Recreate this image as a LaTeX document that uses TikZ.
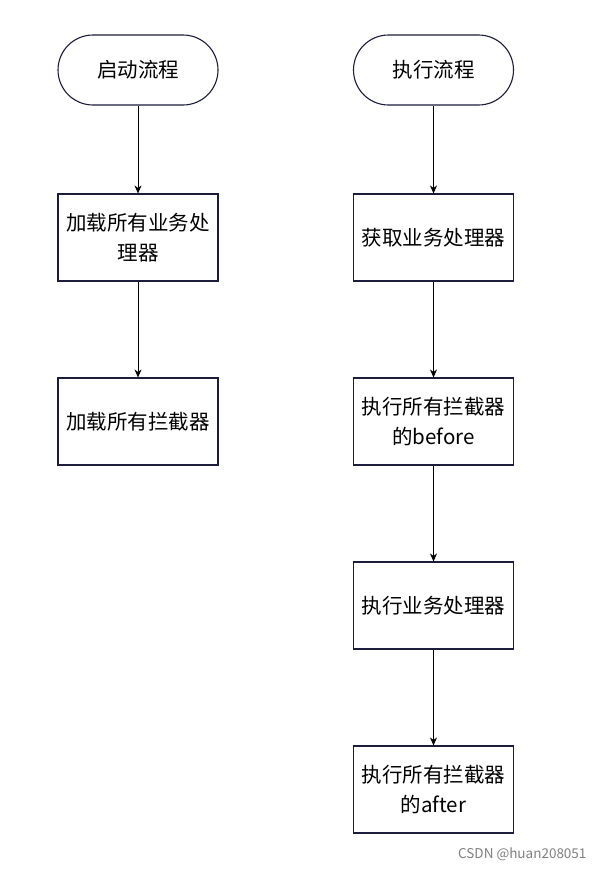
\documentclass[tikz,border=0pt]{standalone}
\usepackage{fontspec}
\setmainfont{Noto Sans CJK SC}
\usetikzlibrary{arrows.meta}
\definecolor{ln}{HTML}{1C1C3C}
\begin{document}
\begin{tikzpicture}[x=1pt,y=-1pt,
  term/.style={draw=ln,line width=1.1pt,rounded corners=35pt,minimum width=160pt,minimum height=70pt,font=\fontsize{20.5}{26}\selectfont,inner sep=0pt},
  box/.style={draw=ln,line width=1.1pt,minimum width=160pt,minimum height=87pt,font=\fontsize{20.5}{30}\selectfont,align=center,inner sep=0pt,text width=156pt},
  arr/.style={draw=black,line width=0.8pt,-{Stealth[length=8pt,width=7pt]}}]
\useasboundingbox[fill=white] (0,0) rectangle (602,870);
\node[term] (s1) at (138,70) {启动流程};
\node[box] (a1) at (138,237.5) {加载所有业务处\\理器};
\node[box] (a2) at (138,421.5) {加载所有拦截器};
\node[term] (s2) at (433.5,70) {执行流程};
\node[box] (b1) at (433.5,237.5) {获取业务处理器};
\node[box] (b2) at (433.5,421.5) {执行所有拦截器\\的before};
\node[box] (b3) at (433.5,605.5) {执行业务处理器};
\node[box] (b4) at (433.5,789.5) {执行所有拦截器\\的after};
\draw[arr] (s1) -- (a1);
\draw[arr] (a1) -- (a2);
\draw[arr] (s2) -- (b1);
\draw[arr] (b1) -- (b2);
\draw[arr] (b2) -- (b3);
\draw[arr] (b3) -- (b4);
\node[anchor=east,text=gray,font=\fontsize{13.5}{15}\selectfont] (wm) at (590,854) {CSDN @huan208051};
\end{tikzpicture}
\end{document}
